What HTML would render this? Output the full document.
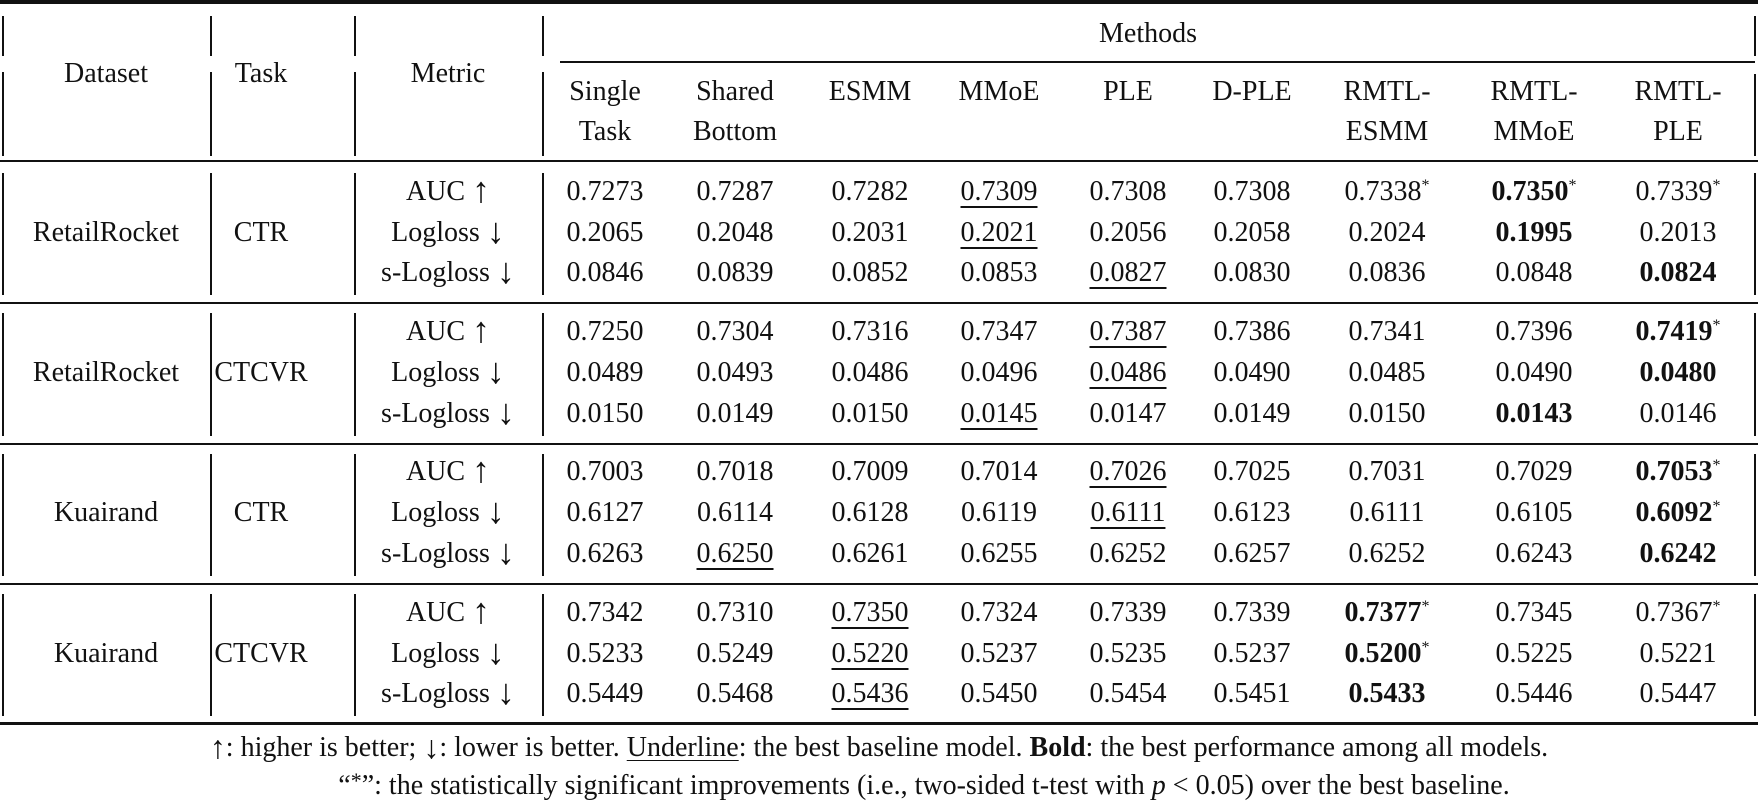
<!DOCTYPE html>
<html><head><meta charset="utf-8"><style>
body{margin:0;background:#fff;}
#p{position:relative;width:1758px;height:804px;overflow:hidden;font-family:"Liberation Serif",serif;font-size:28px;color:#111;}
.l{position:absolute;background:#111;}
.r{position:absolute;left:0;width:1758px;height:32px;line-height:32px;}
.c{position:absolute;width:150px;text-align:center;white-space:nowrap;}
.u{text-decoration:underline;text-underline-offset:6px;text-decoration-thickness:1.5px;}
b{font-weight:bold;}
sup{font-size:16px;line-height:0;vertical-align:0;position:relative;top:-10px;}
.ar{font-size:36px;line-height:0;position:relative;top:2px;}
.a{left:31px}.b{left:186px}.m{left:373px}
.k1{left:530px}.k2{left:660px}.k3{left:795px}.k4{left:924px}.k5{left:1053px}.k6{left:1177px}.k7{left:1312px}.k8{left:1459px}.k9{left:1603px}
.f{position:absolute;left:0;width:1758px;text-align:center;font-size:28px;}
.f .ar{font-size:32px;}
</style></head><body><div id="p">
<div class="l" style="left:0;top:0;width:1758px;height:4px"></div>
<div class="l" style="left:560px;top:61px;width:1195px;height:1.5px"></div>
<div class="l" style="left:0;top:160px;width:1758px;height:2px"></div>
<div class="l" style="left:0;top:302px;width:1758px;height:2px"></div>
<div class="l" style="left:0;top:443px;width:1758px;height:2px"></div>
<div class="l" style="left:0;top:583px;width:1758px;height:2px"></div>
<div class="l" style="left:0;top:722px;width:1758px;height:2.5px"></div>
<div class="l" style="left:2px;top:16px;width:1.5px;height:40px"></div>
<div class="l" style="left:2px;top:72px;width:1.5px;height:84px"></div>
<div class="l" style="left:210px;top:16px;width:1.5px;height:40px"></div>
<div class="l" style="left:210px;top:72px;width:1.5px;height:84px"></div>
<div class="l" style="left:354px;top:16px;width:1.5px;height:40px"></div>
<div class="l" style="left:354px;top:72px;width:1.5px;height:84px"></div>
<div class="l" style="left:542px;top:16px;width:1.5px;height:40px"></div>
<div class="l" style="left:542px;top:72px;width:1.5px;height:84px"></div>
<div class="l" style="left:1754px;top:16px;width:1.5px;height:40px"></div>
<div class="l" style="left:1754px;top:74px;width:1.5px;height:82px"></div>
<div class="l" style="left:2px;top:173px;width:1.5px;height:122px"></div>
<div class="l" style="left:210px;top:173px;width:1.5px;height:122px"></div>
<div class="l" style="left:354px;top:173px;width:1.5px;height:122px"></div>
<div class="l" style="left:542px;top:173px;width:1.5px;height:122px"></div>
<div class="l" style="left:1754px;top:173px;width:1.5px;height:122px"></div>
<div class="l" style="left:2px;top:313px;width:1.5px;height:123px"></div>
<div class="l" style="left:210px;top:313px;width:1.5px;height:123px"></div>
<div class="l" style="left:354px;top:313px;width:1.5px;height:123px"></div>
<div class="l" style="left:542px;top:313px;width:1.5px;height:123px"></div>
<div class="l" style="left:1754px;top:313px;width:1.5px;height:123px"></div>
<div class="l" style="left:2px;top:454px;width:1.5px;height:122px"></div>
<div class="l" style="left:210px;top:454px;width:1.5px;height:122px"></div>
<div class="l" style="left:354px;top:454px;width:1.5px;height:122px"></div>
<div class="l" style="left:542px;top:454px;width:1.5px;height:122px"></div>
<div class="l" style="left:1754px;top:454px;width:1.5px;height:122px"></div>
<div class="l" style="left:2px;top:594px;width:1.5px;height:122px"></div>
<div class="l" style="left:210px;top:594px;width:1.5px;height:122px"></div>
<div class="l" style="left:354px;top:594px;width:1.5px;height:122px"></div>
<div class="l" style="left:542px;top:594px;width:1.5px;height:122px"></div>
<div class="l" style="left:1754px;top:594px;width:1.5px;height:122px"></div>

<div class="r" style="top:18px"><span class="c" style="left:1073px">Methods</span></div>
<div class="r" style="top:58px"><span class="c a">Dataset</span><span class="c b">Task</span><span class="c m">Metric</span></div>
<div class="r" style="top:76px"><span class="c k1">Single</span><span class="c k2">Shared</span><span class="c k3">ESMM</span><span class="c k4">MMoE</span><span class="c k5">PLE</span><span class="c k6">D-PLE</span><span class="c k7">RMTL-</span><span class="c k8">RMTL-</span><span class="c k9">RMTL-</span></div>
<div class="r" style="top:116px"><span class="c k1">Task</span><span class="c k2">Bottom</span><span class="c k7">ESMM</span><span class="c k8">MMoE</span><span class="c k9">PLE</span></div>

<div class="r" style="top:176px"><span class="c m">AUC <span class="ar">↑</span></span><span class="c k1">0.7273</span><span class="c k2">0.7287</span><span class="c k3">0.7282</span><span class="c k4"><span class="u">0.7309</span></span><span class="c k5">0.7308</span><span class="c k6">0.7308</span><span class="c k7">0.7338<sup>*</sup></span><span class="c k8"><b>0.7350</b><sup>*</sup></span><span class="c k9">0.7339<sup>*</sup></span></div>
<div class="r" style="top:217px"><span class="c a">RetailRocket</span><span class="c b">CTR</span><span class="c m">Logloss <span class="ar">↓</span></span><span class="c k1">0.2065</span><span class="c k2">0.2048</span><span class="c k3">0.2031</span><span class="c k4"><span class="u">0.2021</span></span><span class="c k5">0.2056</span><span class="c k6">0.2058</span><span class="c k7">0.2024</span><span class="c k8"><b>0.1995</b></span><span class="c k9">0.2013</span></div>
<div class="r" style="top:257px"><span class="c m">s-Logloss <span class="ar">↓</span></span><span class="c k1">0.0846</span><span class="c k2">0.0839</span><span class="c k3">0.0852</span><span class="c k4">0.0853</span><span class="c k5"><span class="u">0.0827</span></span><span class="c k6">0.0830</span><span class="c k7">0.0836</span><span class="c k8">0.0848</span><span class="c k9"><b>0.0824</b></span></div>

<div class="r" style="top:316px"><span class="c m">AUC <span class="ar">↑</span></span><span class="c k1">0.7250</span><span class="c k2">0.7304</span><span class="c k3">0.7316</span><span class="c k4">0.7347</span><span class="c k5"><span class="u">0.7387</span></span><span class="c k6">0.7386</span><span class="c k7">0.7341</span><span class="c k8">0.7396</span><span class="c k9"><b>0.7419</b><sup>*</sup></span></div>
<div class="r" style="top:357px"><span class="c a">RetailRocket</span><span class="c b">CTCVR</span><span class="c m">Logloss <span class="ar">↓</span></span><span class="c k1">0.0489</span><span class="c k2">0.0493</span><span class="c k3">0.0486</span><span class="c k4">0.0496</span><span class="c k5"><span class="u">0.0486</span></span><span class="c k6">0.0490</span><span class="c k7">0.0485</span><span class="c k8">0.0490</span><span class="c k9"><b>0.0480</b></span></div>
<div class="r" style="top:398px"><span class="c m">s-Logloss <span class="ar">↓</span></span><span class="c k1">0.0150</span><span class="c k2">0.0149</span><span class="c k3">0.0150</span><span class="c k4"><span class="u">0.0145</span></span><span class="c k5">0.0147</span><span class="c k6">0.0149</span><span class="c k7">0.0150</span><span class="c k8"><b>0.0143</b></span><span class="c k9">0.0146</span></div>

<div class="r" style="top:456px"><span class="c m">AUC <span class="ar">↑</span></span><span class="c k1">0.7003</span><span class="c k2">0.7018</span><span class="c k3">0.7009</span><span class="c k4">0.7014</span><span class="c k5"><span class="u">0.7026</span></span><span class="c k6">0.7025</span><span class="c k7">0.7031</span><span class="c k8">0.7029</span><span class="c k9"><b>0.7053</b><sup>*</sup></span></div>
<div class="r" style="top:497px"><span class="c a">Kuairand</span><span class="c b">CTR</span><span class="c m">Logloss <span class="ar">↓</span></span><span class="c k1">0.6127</span><span class="c k2">0.6114</span><span class="c k3">0.6128</span><span class="c k4">0.6119</span><span class="c k5"><span class="u">0.6111</span></span><span class="c k6">0.6123</span><span class="c k7">0.6111</span><span class="c k8">0.6105</span><span class="c k9"><b>0.6092</b><sup>*</sup></span></div>
<div class="r" style="top:538px"><span class="c m">s-Logloss <span class="ar">↓</span></span><span class="c k1">0.6263</span><span class="c k2"><span class="u">0.6250</span></span><span class="c k3">0.6261</span><span class="c k4">0.6255</span><span class="c k5">0.6252</span><span class="c k6">0.6257</span><span class="c k7">0.6252</span><span class="c k8">0.6243</span><span class="c k9"><b>0.6242</b></span></div>

<div class="r" style="top:597px"><span class="c m">AUC <span class="ar">↑</span></span><span class="c k1">0.7342</span><span class="c k2">0.7310</span><span class="c k3"><span class="u">0.7350</span></span><span class="c k4">0.7324</span><span class="c k5">0.7339</span><span class="c k6">0.7339</span><span class="c k7"><b>0.7377</b><sup>*</sup></span><span class="c k8">0.7345</span><span class="c k9">0.7367<sup>*</sup></span></div>
<div class="r" style="top:638px"><span class="c a">Kuairand</span><span class="c b">CTCVR</span><span class="c m">Logloss <span class="ar">↓</span></span><span class="c k1">0.5233</span><span class="c k2">0.5249</span><span class="c k3"><span class="u">0.5220</span></span><span class="c k4">0.5237</span><span class="c k5">0.5235</span><span class="c k6">0.5237</span><span class="c k7"><b>0.5200</b><sup>*</sup></span><span class="c k8">0.5225</span><span class="c k9">0.5221</span></div>
<div class="r" style="top:678px"><span class="c m">s-Logloss <span class="ar">↓</span></span><span class="c k1">0.5449</span><span class="c k2">0.5468</span><span class="c k3"><span class="u">0.5436</span></span><span class="c k4">0.5450</span><span class="c k5">0.5454</span><span class="c k6">0.5451</span><span class="c k7"><b>0.5433</b></span><span class="c k8">0.5446</span><span class="c k9">0.5447</span></div>

<div class="f" style="top:732px"><span class="ar">↑</span>: higher is better; <span class="ar">↓</span>: lower is better. <span class="u" style="text-underline-offset:4px;text-decoration-thickness:1px">Underline</span>: the best baseline model. <b>Bold</b>: the best performance among all models.</div>
<div class="f" style="top:770px;left:45px">“<sup style="top:-6px;font-size:22px">*</sup>”: the statistically significant improvements (i.e., two-sided t-test with <i>p</i> &lt; 0.05) over the best baseline.</div>
</div></body></html>
